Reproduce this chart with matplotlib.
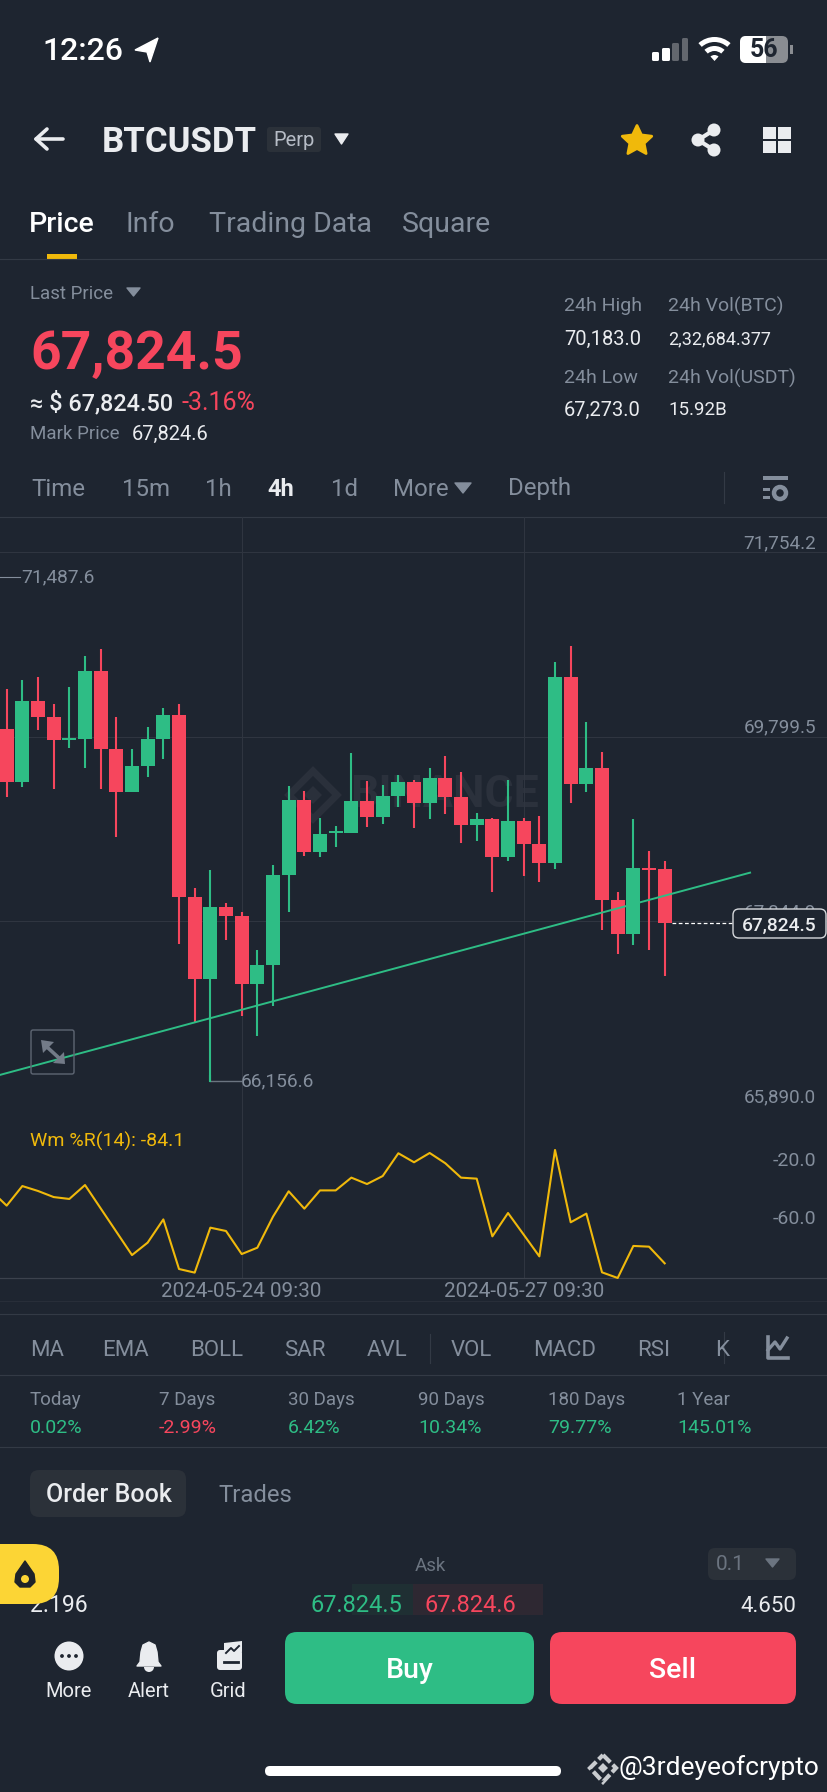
import numpy as np
import matplotlib
matplotlib.use("Agg")
import matplotlib.pyplot as plt
from matplotlib.patches import FancyBboxPatch, Polygon, Circle, Wedge, Rectangle

# candles, oldest first
opens = [69878, 69320, 70174, 70005, 69765, 69775, 70491, 69673, 69218, 69486, 69775, 70026, 68103, 67235, 67997,
         67902, 67186, 67380, 68339, 69130, 68583, 68777, 68777, 69116, 68950, 69168, 69317, 69094, 69363, 69161,
         68865, 68925, 68523, 68904, 68664, 68463, 70428, 69303, 69465, 68068, 67711, 68406, 68399]
highs = [70300, 70400, 70428, 70142, 70329, 70654, 70724, 70005, 69673, 69906, 70103, 70142, 68195, 68389, 68043,
         67941, 67539, 68445, 69278, 69228, 68943, 68858, 69627, 69327, 69292, 69398, 69341, 69472, 69595, 69430,
         68992, 68936, 69338, 68939, 68960, 70594, 70760, 69955, 69634, 68152, 68925, 68590, 68488]
lows = [69165, 69271, 69871, 69243, 69684, 69472, 69243, 68735, 69218, 69377, 69567, 67609, 66777, 66156.6, 67648,
        66847, 66635, 66949, 67948, 68541, 68523, 68632, 68777, 68844, 68876, 69059, 68830, 68932, 68982, 68675,
        68696, 68152, 68488, 68322, 68265, 68399, 69101, 69218, 67754, 67496, 67599, 67546, 67267]
closes = [69320, 70174, 70005, 69765, 69786, 70491, 69673, 69218, 69486, 69775, 70026, 68103, 67235, 67997, 67902,
          67186, 67380, 68336, 69130, 68583, 68773, 68798, 69116, 68950, 69168, 69317, 69094, 69363, 69161, 68865,
          68925, 68523, 68904, 68664, 68463, 70428, 69303, 69465, 68068, 67711, 68410, 68392, 67824.5]

# Williams %R, first point belongs to the candle just off the left edge
wr_values = [-34.0, -44.3, -30.8, -34.2, -38.4, -39.7, -30.1, -46.2, -62.3, -78.4, -69.8, -53.8, -88.0, -90.5, -59.5,
             -61.8, -77.7, -73.3, -51.9, -34.4, -46.4, -33.8, -33.8, -25.0, -29.4, -23.9, -8.2, -14.4, -8.0, -15.1,
             -25.0, -25.7, -65.5, -49.4, -64.3, -79.3, -5.9, -55.8, -49.8, -90.3, -94.2, -72.1, -72.6, -84.1]

trend_x = [-0.43, 47.45]
trend_y = [66219, 68360]

price_ticks = [71754.2, 69799.5, 67844.9, 65890.0]
wr_ticks = [-20.0, -60.0]
date_ticks = [15, 33]
date_labels = ["2024-05-24 09:30", "2024-05-27 09:30"]
last_price = 67824.5
chart_high = 71487.6
chart_low = 66156.6

tabs = ["Price", "Info", "Trading Data", "Square"]
intervals = ["Time", "15m", "1h", "4h", "1d", "More", "Depth"]
indicators = ["MA", "EMA", "BOLL", "SAR", "AVL", "VOL", "MACD", "RSI"]
period_labels = ["Today", "7 Days", "30 Days", "90 Days", "180 Days", "1 Year"]
period_values = ["0.02%", "-2.99%", "6.42%", "10.34%", "79.77%", "145.01%"]

W, H = 827, 1792
BG = "#1e2530"
GREEN = "#2ebd85"
RED = "#f6465d"
YELLOW = "#f0b90b"
GRAY = "#848e9c"
LIGHT = "#eaecef"
GRID = "#2f3540"
PANEL = "#2b3139"

plt.rcParams["font.family"] = ["Roboto", "DejaVu Sans"]

fig = plt.figure(figsize=(W / 100, H / 100), dpi=100, facecolor=BG)


def px_axes(x0, y0, x1, y1, zorder):
    ax = fig.add_axes([x0 / W, 1 - y1 / H, (x1 - x0) / W, (y1 - y0) / H], zorder=zorder)
    ax.patch.set_alpha(0)
    return ax


def pixel_layer(zorder):
    ax = px_axes(0, 0, W, H, zorder)
    ax.set_xlim(0, W)
    ax.set_ylim(H, 0)
    ax.axis("off")
    return ax


ui = pixel_layer(0)
top = pixel_layer(3)


def label(x, y, s, size=13.5, color=GRAY, weight="normal", ha="left", ax=None):
    # centred text sits a little high, 2px brings it onto the reference rows
    return (ax or ui).text(x, y + 2, s, fontsize=size, color=color, fontweight=weight, ha=ha, va="center")


def box(ax, x0, y0, x1, y1, r, fc, ec="none", lw=0, zorder=1):
    ax.add_patch(FancyBboxPatch((x0, y0), x1 - x0, y1 - y0, boxstyle=f"round,pad=0,rounding_size={r}",
                                fc=fc, ec=ec, lw=lw, zorder=zorder))


def tri(ax, x0, x1, y0, y1, color):
    ax.add_patch(Polygon([(x0, y0), (x1, y0), ((x0 + x1) / 2, y1)], closed=True, fc=color, ec=color, lw=1, joinstyle="round"))


def rule(y, color="#333a45", x0=0, x1=W):
    ui.plot([x0, x1], [y, y], color=color, lw=0.8)


# ---- status bar
label(42, 49, "12:26", 23, "white", "medium")
ui.add_patch(Polygon([(135, 50), (158, 38), (150, 62), (147, 52)], closed=True, fc="white", ec="white", lw=1))
for x0, x1, y_top, col in [(652, 659, 52, "white"), (662, 670, 48, "white"), (672, 679, 43, "#63676e"), (682, 688, 38, "#63676e")]:
    box(ui, x0, y_top, x1, 61, 1.5, col)
for r0, r1 in [(0, 6), (10, 15), (19, 24)]:
    ui.add_patch(Wedge((714.5, 61), r1, 228, 312, width=r1 - r0, fc="white", ec="none"))
box(ui, 740, 36, 788, 63, 6, "#8a8d92")
box(ui, 740, 36, 770, 63, 6, "white")
ui.add_patch(Rectangle((758, 36), 8, 27, fc="white", ec="none", zorder=1.1))
ui.add_patch(Rectangle((766, 36), 8, 27, fc="#8a8d92", ec="none", zorder=1.1))
ui.text(764, 50, "56", fontsize=18, color="#1e2530", fontweight="bold", ha="center", va="center", zorder=2)
ui.add_patch(Rectangle((790, 45), 2.5, 9, fc="#8a8d92", ec="none"))

# ---- title row
ui.plot([36, 63], [139, 139], color=LIGHT, lw=2.6, solid_capstyle="round")
ui.plot([47, 36, 47], [129, 139, 149], color=LIGHT, lw=2.6, solid_capstyle="round", solid_joinstyle="round")
label(102, 140, "BTCUSDT", 25, LIGHT, "bold")
box(ui, 267, 127, 321, 152, 3, PANEL)
label(294, 138, "Perp", 14.5, "#b7bdc6", ha="center")
tri(ui, 335, 348, 134, 144, LIGHT)
star_angles = np.deg2rad(np.arange(-90, 270, 36))
star_radii = np.tile([15.5, 7.5], 5)
ui.add_patch(Polygon(np.c_[637 + star_radii * np.cos(star_angles), 141 + star_radii * np.sin(star_angles)], closed=True,
                     fc=YELLOW, ec=YELLOW, lw=2, joinstyle="round"))
ui.plot([714, 698, 714], [130, 140, 150], color=LIGHT, lw=3)
for cx, cy in [(698, 140), (714, 130), (714, 150)]:
    ui.add_patch(Circle((cx, cy), 6.5, fc=LIGHT, ec="none"))
for x0, y0 in [(763, 127), (778, 127), (763, 141), (778, 141)]:
    ui.add_patch(Rectangle((x0, y0), 13, 12, fc=LIGHT, ec="none"))

# ---- tabs
for s, x, col, wt in zip(tabs, [29, 125, 209, 402], ["white", GRAY, GRAY, GRAY], ["medium", "normal", "normal", "normal"]):
    label(x, 222, s, 20.5, col, wt)
ui.add_patch(Rectangle((47, 254), 30, 5, fc=YELLOW, ec="none"))
rule(259.5)

# ---- price block
label(30, 292, "Last Price", 13.5)
tri(ui, 127, 140, 288, 296, GRAY)
label(30, 352, "67,824.5", 38.5, RED, "bold")
label(30, 401, "≈ $ 67,824.50", 16.8, LIGHT, "medium")
label(182, 401, "-3.16%", 18, RED)
label(30, 432, "Mark Price", 13.5)
label(132, 432, "67,824.6", 14.5, LIGHT)
label(564, 304, "24h High", 14)
label(668, 304, "24h Vol(BTC)", 14)
label(564, 337, "70,183.0", 14.5, LIGHT)
label(668, 337, "2,32,684.377", 13, LIGHT)
label(564, 376, "24h Low", 14)
label(668, 376, "24h Vol(USDT)", 14)
label(564, 408, "67,273.0", 14.5, LIGHT)
label(668, 408, "15.92B", 13.5, LIGHT)

# ---- interval row
for s, x in zip(intervals, [31, 122, 205, 267, 331, 393, 508]):
    if s == "4h":
        label(x, 487, s, 17, LIGHT, "bold")
    else:
        label(x, 487, s, 17.3)
tri(ui, 455, 471, 483, 493, GRAY)
ui.plot([724, 724], [472, 503], color="#333a45", lw=0.8)
ui.add_patch(Rectangle((763, 476), 25, 4, fc=GRAY, ec="none"))
ui.add_patch(Rectangle((763, 488), 7, 3, fc=GRAY, ec="none"))
ui.add_patch(Rectangle((763, 496), 7, 3, fc=GRAY, ec="none"))
ui.add_patch(Circle((780, 493), 6, fc=BG, ec=GRAY, lw=3.2))
rule(517)

# faint BINANCE mark behind the candles
ui.add_patch(Polygon([(313, 771), (337, 795), (313, 819), (289, 795)], closed=True, fc="none", ec="#2a303b", lw=5))
ui.add_patch(Polygon([(313, 786), (322, 795), (313, 804), (304, 795)], closed=True, fc="#2a303b", ec="none"))
label(350, 793, "BINANCE", 32, "#2b313c", "bold")

# ---- candles
ax = px_axes(0, 517, W, 1106, 1)
candle_x = np.arange(len(opens))
colors = [GREEN if c >= o else RED for o, c in zip(opens, closes)]
body_low = np.minimum(opens, closes)
body_height = np.abs(np.array(closes) - np.array(opens))
ax.vlines(candle_x, lows, highs, colors=colors, lw=1.5, zorder=3)
ax.bar(candle_x, body_height, bottom=body_low, width=0.89, color=colors, zorder=4)
ax.plot(trend_x, trend_y, color=GREEN, lw=1.4, zorder=5)

ax.set_xlim(-0.4257, 52.36)
ax.set_ylim(65890.0, 72124.6)
ax.set_xticks(date_ticks)
ax.set_yticks(price_ticks)
ax.set_yticklabels([f"{p:,.1f}" for p in price_ticks], ha="right", va="bottom")
ax.tick_params(axis="y", length=0, labelleft=False, labelright=True, pad=-7.9, labelsize=13.6, labelcolor=GRAY)
ax.tick_params(axis="x", length=0, labelbottom=False)
ax.grid(True, color=GRID, lw=0.8, zorder=0)
ax.set_axisbelow(True)
for sp in ax.spines.values():
    sp.set_visible(False)

# high, low and last price markers
ax.annotate(f"{chart_high:,.1f}", xy=(-0.43, chart_high), xytext=(21, 0), textcoords="offset pixels",
            fontsize=13.8, color=GRAY, va="center")
ax.plot([-0.43, 0.85], [chart_high, chart_high], color=GRAY, lw=0.8)
low_i = int(np.argmin(lows))
ax.plot([low_i, low_i + 1.95], [chart_low, chart_low], color="#6b7480", lw=1, zorder=2)
ax.plot([low_i, low_i], [chart_low, chart_low + 50], color=GREEN, lw=1.5, zorder=3)
ax.annotate(f"{chart_low:,.1f}", xy=(low_i + 1.95, chart_low), xytext=(0, -1), textcoords="offset pixels",
            fontsize=13.8, color=GRAY, va="center")
ax.plot([candle_x[-1] + 0.45, 46.4], [last_price, last_price], color="white", lw=0.9, ls=(0, (3, 2)), zorder=2)

# price tag sits over the 67,844.9 tick label
box(top, 733, 909, 826, 938, 6, BG, ec="#d5d8dc", lw=1)
label(779.5, 923.5, f"{last_price:,.1f}", 13.8, LIGHT, "medium", ha="center", ax=top)

# expand button
box(top, 31, 1030, 74, 1074, 2, "none", ec="#5e6673", lw=1)
top.add_patch(Polygon([(41, 1040), (54, 1042), (43, 1053)], closed=True, fc="#737b88", ec="none"))
top.add_patch(Polygon([(65, 1064), (53, 1063), (64, 1052)], closed=True, fc="#737b88", ec="none"))
top.plot([47, 59], [1047, 1058], color="#737b88", lw=2.6)

# ---- Williams %R panel
wr = px_axes(0, 1106, W, 1277.7, 1)
wr.plot(np.arange(-1, len(opens)), wr_values, color=YELLOW, lw=1.5, solid_joinstyle="round", clip_on=False, zorder=4)
wr.set_xlim(ax.get_xlim())
wr.set_ylim(-94.0, 24.4)
wr.set_xticks(date_ticks)
wr.set_xticklabels(date_labels)
wr.set_yticks(wr_ticks)
wr.set_yticklabels([f"{v:.1f}" for v in wr_ticks], ha="right", va="bottom")
wr.tick_params(axis="y", length=0, labelleft=False, labelright=True, pad=-7.9, labelsize=14, labelcolor=GRAY)
wr.tick_params(axis="x", length=0, pad=3, labelsize=14.9, labelcolor=GRAY)
wr.grid(True, axis="x", color=GRID, lw=0.8, zorder=0)
wr.set_axisbelow(True)
for name, sp in wr.spines.items():
    sp.set_visible(name == "bottom")
wr.spines["bottom"].set_color("#3c424d")
wr.spines["bottom"].set_linewidth(0.9)
label(30, 1139, "Wm %R(14): -84.1", 14, YELLOW)

rule(1300.7, "#282e39")
rule(1314, "#333a45")

# ---- indicator row
for s, x in zip(indicators, [30, 102, 190, 284, 367, 451, 533, 637]):
    label(x, 1349, s, 16)
k_text = label(715, 1349, "K", 16)
k_text.set_clip_path(Rectangle((700, 1330), 24, 40, transform=ui.transData))
ui.plot([430, 430], [1334, 1363], color="#333a45", lw=0.8)
ui.plot([724, 724], [1332, 1363], color="#333a45", lw=0.8)
ui.plot([768, 768, 788], [1337, 1358, 1358], color=GRAY, lw=2.6)
ui.plot([768, 775, 780, 787], [1350, 1342, 1349, 1338], color=GRAY, lw=2.4)
rule(1375)

# ---- period returns
for s, v, x in zip(period_labels, period_values, [30, 159, 288, 418, 548, 677]):
    label(x, 1398, s, 13.5)
    label(x, 1426, v, 14, RED if v.startswith("-") else GREEN)
rule(1447)

# ---- order book
box(ui, 30, 1470, 186, 1517, 9, PANEL)
label(46, 1493.5, "Order Book", 18, LIGHT, "medium")
label(218, 1493.5, "Trades", 17.2)
label(430, 1564, "Ask", 13.5, "#6b7480", ha="center")
box(ui, 708, 1548, 796, 1580, 7, PANEL)
label(716, 1563, "0.1", 15, "#6b7480")
tri(ui, 766, 779, 1559, 1567, "#6b7480")
ui.add_patch(Rectangle((352, 1584), 61, 31, fc="#1f2f33", ec="none"))
ui.add_patch(Rectangle((413, 1584), 130, 31, fc="#2e2832", ec="none"))
label(30, 1604, "2.196", 16.5, LIGHT)
label(311, 1604, "67.824.5", 17, GREEN)
label(424, 1604, "67.824.6", 17, RED)
label(796, 1604, "4.650", 16, LIGHT, ha="right")

box(ui, -40, 1544, 59, 1604, 26, "#fcd535", zorder=3)
ui.add_patch(Polygon([(25, 1561), (34, 1574), (35, 1582), (30, 1587), (20, 1587), (15, 1582), (16, 1574)], closed=True, fc="#1e2329", ec="#1e2329", lw=1, joinstyle="round", zorder=4))
ui.add_patch(Circle((25, 1579), 4, fc="#fcd535", ec="none", zorder=5))

# ---- bottom actions
ui.add_patch(Circle((69, 1656), 14.5, fc=LIGHT, ec="none"))
for dx in (-7, 0, 7):
    ui.add_patch(Circle((69 + dx, 1656), 1.9, fc=BG, ec="none"))
ui.add_patch(Polygon([(149, 1642), (155, 1645), (157, 1652), (158, 1662), (161, 1666), (137, 1666), (140, 1662), (141, 1652), (143, 1645)],
                     closed=True, fc=LIGHT, ec=LIGHT, lw=1, joinstyle="round"))
ui.add_patch(Wedge((149, 1667), 5, 0, 180, fc=LIGHT, ec="none"))
box(ui, 217, 1650, 242, 1670, 3, LIGHT)
ui.add_patch(Polygon([(224, 1650), (224, 1643), (242, 1641), (242, 1652)], closed=True, fc=LIGHT, ec="none"))
ui.plot([226, 231, 234, 239], [1653, 1648, 1651, 1646], color=BG, lw=1.4)
ui.plot([224, 238], [1662, 1662], color=BG, lw=2)
for s, x in zip(["More", "Alert", "Grid"], [69, 149, 228]):
    label(x, 1689.5, s, 14.5, LIGHT, ha="center")

box(ui, 285, 1632, 534, 1704, 12, GREEN)
box(ui, 550, 1632, 796, 1704, 12, RED)
label(409.5, 1668, "Buy", 20.5, "white", "medium", ha="center")
label(673, 1668, "Sell", 20.5, "white", "medium", ha="center")

box(ui, 265, 1766, 561, 1776, 5, "white")
ui.add_patch(Polygon([(603, 1755), (616, 1768), (603, 1782), (590, 1768)], closed=True, fc="none", ec="#c9ccd0", lw=3, ls=(0, (2.5, 0.8))))
ui.add_patch(Polygon([(603, 1763), (608, 1768), (603, 1773), (598, 1768)], closed=True, fc="#c9ccd0", ec="none"))
label(618, 1766, "@3rdeyeofcrypto", 19, "white")

fig.savefig("out.png", dpi=100, facecolor=BG)
